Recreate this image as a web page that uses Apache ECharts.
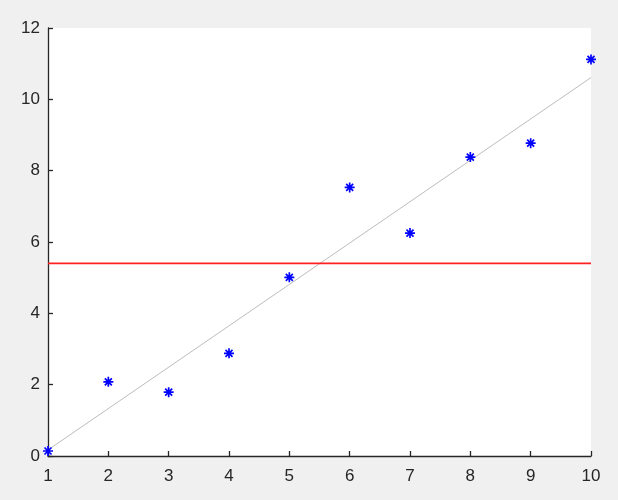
<!DOCTYPE html>
<html>
<head>
<meta charset="utf-8">
<script src="https://cdn.jsdelivr.net/npm/echarts@6/dist/echarts.min.js"></script>
<style>
html,body{margin:0;padding:0;background:#f0f0f0;}
#chart{width:618px;height:500px;}
</style>
</head>
<body>
<div id="chart"></div>
<script>
// Data
var xValues = [1, 2, 3, 4, 5, 6, 7, 8, 9, 10];
var yValues = [0.14, 2.08, 1.79, 2.88, 5.01, 7.53, 6.25, 8.38, 8.77, 11.12];
var meanX = [1, 10];
var meanY = [5.40, 5.40];
var fitX = [1, 10];
var fitY = [0.17, 10.61];
var xTicks = [1, 10, 1];   // min, max, interval
var yTicks = [0, 12, 2];   // min, max, interval

function pairs(xs, ys) { return xs.map(function (x, i) { return [x, ys[i]]; }); }

var axisColor = '#262626';
var chart = echarts.init(document.getElementById('chart'));
chart.setOption({
  animation: false,
  backgroundColor: '#f0f0f0',
  grid: {
    left: 48, right: 27, top: 28, bottom: 44,
    show: true, backgroundColor: '#ffffff', borderWidth: 0
  },
  xAxis: {
    type: 'value', min: xTicks[0], max: xTicks[1], interval: xTicks[2],
    axisLine: { show: true, onZero: false, lineStyle: { color: axisColor, width: 1.3 } },
    axisTick: { show: true, inside: true, length: 5, lineStyle: { color: axisColor, width: 1.3 } },
    axisLabel: { color: axisColor, fontFamily: 'Liberation Sans, Arial, sans-serif', fontSize: 17, margin: 12 },
    splitLine: { show: false }
  },
  yAxis: {
    type: 'value', min: yTicks[0], max: yTicks[1], interval: yTicks[2],
    axisLine: { show: true, onZero: false, lineStyle: { color: axisColor, width: 1.3 } },
    axisTick: { show: true, inside: true, length: 5, lineStyle: { color: axisColor, width: 1.3 } },
    axisLabel: { color: axisColor, fontFamily: 'Liberation Sans, Arial, sans-serif', fontSize: 17, margin: 8 },
    splitLine: { show: false }
  },
  series: [
    {
      type: 'line', data: pairs(fitX, fitY), showSymbol: false, symbol: 'none',
      color: '#bdbdbd',
      lineStyle: { color: '#bdbdbd', width: 1 }, silent: true, z: 2
    },
    {
      type: 'line', data: pairs(meanX, meanY), showSymbol: false, symbol: 'none',
      color: '#ff2020',
      lineStyle: { color: '#ff2020', width: 1.6, opacity: 1 }, silent: true, z: 3
    },
    {
      type: 'scatter', data: pairs(xValues, yValues),
      symbol: 'path://M10,0L10,20M0,10L20,10M3,3L17,17M3,17L17,3',
      symbolSize: 10,
      itemStyle: { color: 'rgba(0,0,0,0)', borderColor: '#0000ff', borderWidth: 1.7, opacity: 1 },
      z: 4
    }
  ]
});
</script>
</body>
</html>
